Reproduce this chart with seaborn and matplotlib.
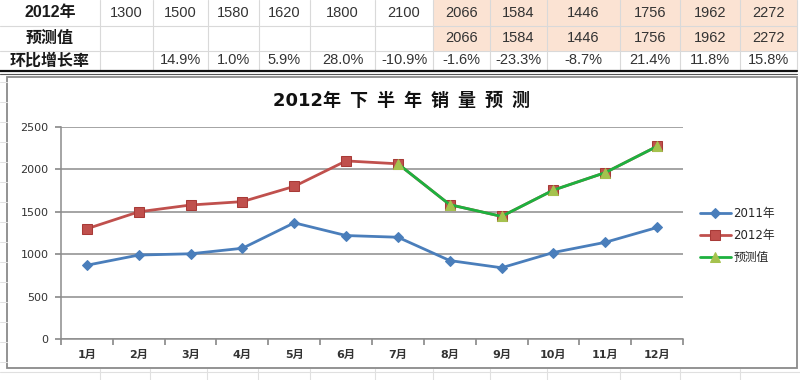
import matplotlib
matplotlib.use('Agg')
import matplotlib.pyplot as plt
import seaborn as sns
from matplotlib.lines import Line2D
from matplotlib.patches import Rectangle
from matplotlib.ticker import FixedLocator, NullFormatter

# Data
months = ['1月', '2月', '3月', '4月', '5月', '6月',
          '7月', '8月', '9月', '10月', '11月', '12月']
sales_2011 = [870, 990, 1005, 1070, 1370, 1220, 1200, 925, 840, 1020, 1140, 1315]
sales_2012 = [1300, 1500, 1580, 1620, 1800, 2100, 2066, 1584, 1446, 1756, 1962, 2272]
forecast = [None, None, None, None, None, None, 2066, 1584, 1446, 1756, 1962, 2272]
growth = ['', '14.9%', '1.0%', '5.9%', '28.0%', '-10.9%',
          '-1.6%', '-23.3%', '-8.7%', '21.4%', '11.8%', '15.8%']
row_labels = ['2012年', '预测值', '环比增长率']
title = '2012年下半年销量预测'

sns.set_theme(style='white')
plt.rcParams['font.family'] = ['DejaVu Sans', 'Noto Sans CJK SC']

W, H = 800, 380
fig = plt.figure(figsize=(W / 100, H / 100), dpi=100)
fig.patch.set_facecolor('white')


def fx(x):
    return x / W


def fy(y):
    return 1 - y / H


def hline(x0, x1, y, **kw):
    fig.add_artist(Line2D([fx(x0), fx(x1)], [fy(y), fy(y)], transform=fig.transFigure, **kw))


def vline(x, y0, y1, **kw):
    fig.add_artist(Line2D([fx(x), fx(x)], [fy(y0), fy(y1)], transform=fig.transFigure, **kw))


# ---- spreadsheet table on top ----
col_edges = [0, 100, 153, 208, 259, 310, 375, 433, 490, 547, 620, 680, 740, 797]
row_edges = [0, 26, 51, 70]
table_font = ['Liberation Sans', 'Noto Sans CJK SC']

# peach fill for forecast columns
fig.add_artist(Rectangle((fx(col_edges[7]), fy(row_edges[2])),
                         fx(col_edges[-1]) - fx(col_edges[7]), fy(0) - fy(row_edges[2]),
                         transform=fig.transFigure, facecolor='#FBE3D3', edgecolor='none'))

grid_c = '#D9D9D9'
for x in col_edges[1:]:
    vline(x, 0, 70, color=grid_c, lw=0.8)
for y in row_edges[1:3]:
    hline(0, 797, y, color=grid_c, lw=0.8)
hline(0, 797, 70.5, color='#111111', lw=1.6)
hline(0, 797, 73.5, color='#555555', lw=0.8)

row_values = [
    [str(v) for v in sales_2012],
    ['' if v is None else str(v) for v in forecast],
    growth,
]
for r, label in enumerate(row_labels):
    yc = (row_edges[r] + row_edges[r + 1]) / 2
    fig.text(fx(50), fy(yc), label, ha='center', va='center', fontsize=11.5,
             fontweight='bold', family=table_font, color='#1a1a1a')
    for c, txt in enumerate(row_values[r]):
        xc = (col_edges[c + 1] + col_edges[c + 2]) / 2
        fig.text(fx(xc), fy(yc), txt, ha='center', va='center', fontsize=10.5,
                 family=table_font, color='#333333')

# faint sheet cell lines around the chart
for y in range(82, 372, 20):
    hline(0, 7, y, color='#E3E3E3', lw=0.7)
for x in [100, 150, 207, 258, 310, 375, 433, 490, 547, 620, 680, 740]:
    vline(x, 369, 380, color='#E0E0E0', lw=0.8)
hline(0, 800, 372, color='#E0E0E0', lw=0.8)

# chart frame
fig.add_artist(Rectangle((fx(7), fy(368)), fx(797) - fx(7), fy(77) - fy(368),
                         transform=fig.transFigure, fill=False, edgecolor='#8A8A8A', lw=1.3))

fig.text(fx(402), fy(101), '2012' + '\u2002'.join(title[4:]), ha='center', va='center',
         fontsize=13, fontweight='bold', color='#111111')

# ---- line chart ----
ax = fig.add_axes([fx(61), fy(339), fx(683) - fx(61), fy(127) - fy(339)])
pos = list(range(len(months)))

sns.lineplot(x=pos, y=sales_2011, ax=ax, color='#4A7EBB', lw=2, marker='D',
             markersize=5.5, mfc='#4A7EBB', mec='#4A7EBB', label='2011年')
sns.lineplot(x=pos, y=sales_2012, ax=ax, color='#C0504D', lw=2, marker='s',
             markersize=7.5, mfc='#C0504D', mec='#A83A37', label='2012年')
fc_pos = [p for p, v in zip(pos, forecast) if v is not None]
fc_val = [v for v in forecast if v is not None]
sns.lineplot(x=fc_pos, y=fc_val, ax=ax, color='#1DB13F', lw=2, marker='^',
             markersize=6.5, mfc='#A5C24E', mec='#A5C24E', label='预测值')

ax.set_xlim(-0.5, 11.5)
ax.set_ylim(0, 2500)
ax.set_yticks(range(0, 2501, 500))
ax.yaxis.grid(True, color='#8C8C8C', lw=1.1)
ax.xaxis.grid(False)
ax.set_axisbelow(True)
for s in ['top', 'right']:
    ax.spines[s].set_visible(False)
for s in ['left', 'bottom']:
    ax.spines[s].set_color('#8C8C8C')
    ax.spines[s].set_linewidth(1.1)

ax.xaxis.set_major_locator(FixedLocator([p - 0.5 for p in pos] + [11.5]))
ax.xaxis.set_major_formatter(NullFormatter())
ax.xaxis.set_minor_locator(FixedLocator(pos))
ax.set_xticklabels(months, minor=True)
ax.tick_params(axis='x', which='major', direction='out', length=4, color='#8C8C8C', bottom=True)
ax.tick_params(axis='x', which='minor', length=0, pad=8, labelsize=8, labelcolor='#333333')
for t in ax.get_xticklabels(minor=True):
    t.set_fontweight('bold')
ax.tick_params(axis='y', direction='out', length=4, color='#8C8C8C', left=True,
               labelsize=8, labelcolor='#333333', pad=5)
ax.set_xlabel('')
ax.set_ylabel('')

ax.legend(loc='upper left', bbox_to_anchor=(fx(700), fy(207)), bbox_transform=fig.transFigure,
          frameon=False, fontsize=8.5, handlelength=2.6, handletextpad=0.2,
          labelspacing=0.75, borderaxespad=0, borderpad=0)

plt.savefig('out.png', dpi=100, facecolor='white')
